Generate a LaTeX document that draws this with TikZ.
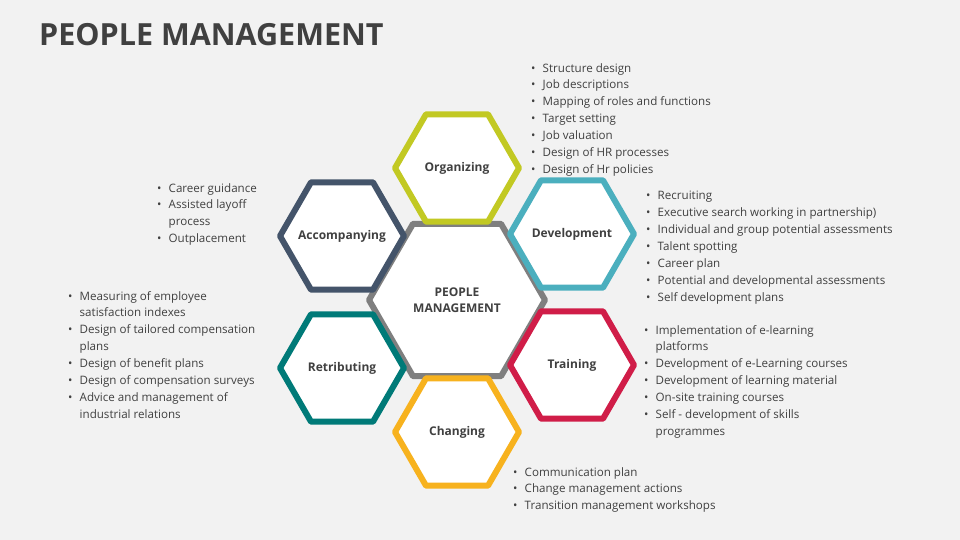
\documentclass[tikz,border=0pt]{standalone}
\usepackage{fontspec}
\usetikzlibrary{calc}
\setmainfont{Open Sans}
\definecolor{bg}{HTML}{F2F2F2}
\definecolor{txt}{HTML}{404040}
\definecolor{cOrg}{HTML}{C2C923}
\definecolor{cAcc}{HTML}{44546A}
\definecolor{cDev}{HTML}{4BAFBE}
\definecolor{cRet}{HTML}{007A78}
\definecolor{cTra}{HTML}{D01D48}
\definecolor{cCha}{HTML}{F7B21E}
\definecolor{cMid}{HTML}{7F7F7F}
\newcommand\bul{\makebox[11.5pt][l]{\textbullet}}
\newcommand\cnt{\hspace*{11.5pt}}
\begin{document}
\begin{tikzpicture}[x=1pt,y=-1pt,
  lst/.style={anchor=north west,inner sep=0pt,align=left,text=txt,font=\fontsize{11.6}{16.9}\selectfont},
  lab/.style={text=txt,font=\bfseries\fontsize{12}{16}\selectfont,align=center}]
\useasboundingbox[fill=bg] (0,0) rectangle (960,540);
\node[anchor=west,text=txt,font=\bfseries\fontsize{30.5}{34}\selectfont,inner sep=0pt] (title) at (39,35) {PEOPLE MANAGEMENT};
\newcommand\hexg[4]{%
  \draw[line width=6pt,line join=round,draw=#4,fill=white]
   ($(#1,#2)+(0:#3)$) -- ($(#1,#2)+(60:#3)$) -- ($(#1,#2)+(120:#3)$) -- ($(#1,#2)+(180:#3)$) -- ($(#1,#2)+(240:#3)$) -- ($(#1,#2)+(300:#3)$) -- cycle;}
\hexg{457}{300}{88}{cMid}
\hexg{457}{168}{62}{cOrg}
\hexg{342}{236}{62}{cAcc}
\hexg{572}{234}{62}{cDev}
\hexg{342}{368}{62}{cRet}
\hexg{572}{365}{62}{cTra}
\hexg{457}{432}{62}{cCha}
\node[lab] (mid) at (457,300) {PEOPLE\\MANAGEMENT};
\node[lab] (org) at (457,168) {Organizing};
\node[lab] (acc) at (342,236) {Accompanying};
\node[lab] (dev) at (572,234) {Development};
\node[lab] (ret) at (342,368) {Retributing};
\node[lab] (tra) at (572,365) {Training};
\node[lab] (cha) at (457,432) {Changing};
\node[lst] (lorg) at (531,63) {\bul Structure design\\\bul Job descriptions\\\bul Mapping of roles and functions\\\bul Target setting\\\bul Job valuation\\\bul Design of HR processes\\\bul Design of Hr policies};
\node[lst] (lacc) at (157,183) {\bul Career guidance\\\bul Assisted layoff\\\cnt process\\\bul Outplacement};
\node[lst] (ldev) at (646,191) {\bul Recruiting\\\bul Executive search working in partnership)\\\bul Individual and group potential assessments\\\bul Talent spotting\\\bul Career plan\\\bul Potential and developmental assessments\\\bul Self development plans};
\node[lst] (lret) at (68,291) {\bul Measuring of employee\\\cnt satisfaction indexes\\\bul Design of tailored compensation\\\cnt plans\\\bul Design of benefit plans\\\bul Design of compensation surveys\\\bul Advice and management of\\\cnt industrial relations};
\node[lst] (ltra) at (644,325) {\bul Implementation of e-learning\\\cnt platforms\\\bul Development of e-Learning courses\\\bul Development of learning material\\\bul On-site training courses\\\bul Self - development of skills\\\cnt programmes};
\node[lst] (lcha) at (513,467) {\bul Communication plan\\\bul Change management actions\\\bul Transition management workshops};
\end{tikzpicture}
\end{document}
